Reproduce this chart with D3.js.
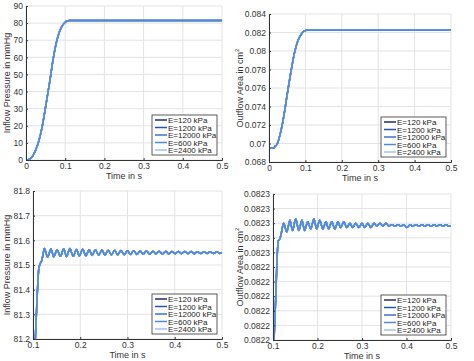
<!DOCTYPE html>
<html>
<head>
<meta charset="utf-8">
<script src="https://cdn.jsdelivr.net/npm/d3@7"></script>
<style>
  body { margin: 0; background: #fff; }
  svg { display: block; }
  text { font-family: "Liberation Sans", Arial, sans-serif; }
</style>
</head>
<body>
<div id="chart"></div>
<script>
// Series names and colours (legend order)
const seriesNames = ["E=120 kPa", "E=1200 kPa", "E=12000 kPa", "E=600 kPa", "E=2400 kPa"];
const seriesColors = ["#1b2c70", "#2552b8", "#3a6fd6", "#4a8ae6", "#9cc4f2"];

// Top-left: inflow pressure, full run
const fullTimeP = [0, 0.005, 0.01, 0.015, 0.02, 0.03, 0.04, 0.05, 0.06, 0.07, 0.08, 0.09, 0.1, 0.105, 0.11, 0.12, 0.2, 0.3, 0.4, 0.5];
const pressureFull = [0, 0.1, 0.6, 1.8, 3.5, 9, 18, 31, 45, 60, 71, 77.5, 80.5, 81.2, 81.5, 81.55, 81.55, 81.55, 81.55, 81.55];

// Top-right: outflow area, full run
const fullTimeA = [0, 0.005, 0.01, 0.014, 0.016, 0.02, 0.025, 0.03, 0.04, 0.05, 0.06, 0.07, 0.08, 0.09, 0.1, 0.105, 0.11, 0.12, 0.2, 0.3, 0.4, 0.5];
const areaFull = [0.0695, 0.0695, 0.0695, 0.0695, 0.0697, 0.0698, 0.0702, 0.0709, 0.0728, 0.0753, 0.0777, 0.0798, 0.0812, 0.0819, 0.08222, 0.08224, 0.08225, 0.08225, 0.08225, 0.08225, 0.08225, 0.08225];

// Bottom row: zoom on 0.1 .. 0.5 s
const zoomTime = [0.1, 0.103, 0.106, 0.109, 0.112, 0.115, 0.118, 0.121,
  0.124, 0.131, 0.138, 0.144, 0.151, 0.158, 0.165, 0.171, 0.178, 0.185,
  0.192, 0.198, 0.205, 0.212, 0.219, 0.225, 0.232, 0.239, 0.246, 0.252,
  0.259, 0.266, 0.273, 0.279, 0.286, 0.293, 0.300, 0.306, 0.313, 0.320,
  0.327, 0.333, 0.340, 0.347, 0.354, 0.360, 0.367, 0.374, 0.381, 0.387,
  0.394, 0.401, 0.408, 0.414, 0.421, 0.428, 0.435, 0.441, 0.448, 0.455,
  0.462, 0.468, 0.475, 0.482, 0.489, 0.495, 0.5];

const pressureZoom = [80.9, 81.1, 81.25, 81.38, 81.48, 81.505, 81.515, 81.54,
  81.567, 81.532, 81.565, 81.533, 81.562, 81.535, 81.566, 81.534, 81.567, 81.535,
  81.563, 81.537, 81.564, 81.538, 81.562, 81.539, 81.562, 81.540, 81.561, 81.540,
  81.560, 81.541, 81.560, 81.541, 81.559, 81.542, 81.558, 81.543, 81.558, 81.543,
  81.557, 81.544, 81.557, 81.544, 81.556, 81.545, 81.556, 81.545, 81.556, 81.545,
  81.555, 81.546, 81.555, 81.546, 81.555, 81.546, 81.555, 81.546, 81.554, 81.547,
  81.554, 81.547, 81.554, 81.547, 81.554, 81.547, 81.551];

const areaZoom = [0.082243, 0.0822455, 0.0822478, 0.0822505, 0.0822518, 0.0822519, 0.0822522, 0.0822527,
  0.0822530, 0.0822524, 0.0822532, 0.0822525, 0.0822533, 0.0822525, 0.0822532, 0.0822525, 0.0822531, 0.0822526,
  0.0822533, 0.0822526, 0.0822532, 0.0822526, 0.0822531, 0.0822526, 0.0822531, 0.0822526, 0.0822531, 0.0822527,
  0.0822531, 0.0822527, 0.0822530, 0.0822527, 0.0822530, 0.0822527, 0.0822530, 0.0822527, 0.0822530, 0.0822527,
  0.0822530, 0.0822528, 0.0822530, 0.0822528, 0.0822530, 0.0822528, 0.0822529, 0.0822528, 0.0822529, 0.0822528,
  0.0822529, 0.0822527, 0.0822529, 0.0822528, 0.0822529, 0.0822528, 0.0822529, 0.0822528, 0.0822529, 0.0822528,
  0.0822529, 0.0822528, 0.0822529, 0.0822528, 0.0822529, 0.0822528, 0.0822528];

// Tick values and labels
const xTicksFull = [0, 0.1, 0.2, 0.3, 0.4, 0.5];
const xTickLabelsFull = ["0", "0.1", "0.2", "0.3", "0.4", "0.5"];
const xTicksZoom = [0.1, 0.2, 0.3, 0.4, 0.5];
const xTickLabelsZoom = ["0.1", "0.2", "0.3", "0.4", "0.5"];
const yTicksP1 = [0, 10, 20, 30, 40, 50, 60, 70, 80, 90];
const yTickLabelsP1 = ["0", "10", "20", "30", "40", "50", "60", "70", "80", "90"];
const yTicksP2 = [0.068, 0.07, 0.072, 0.074, 0.076, 0.078, 0.08, 0.082, 0.084];
const yTickLabelsP2 = ["0.068", "0.07", "0.072", "0.074", "0.076", "0.078", "0.08", "0.082", "0.084"];
const yTicksP3 = [81.2, 81.3, 81.4, 81.5, 81.6, 81.7, 81.8];
const yTickLabelsP3 = ["81.2", "81.3", "81.4", "81.5", "81.6", "81.7", "81.8"];
const yTicksP4 = [0.082245, 0.082246, 0.082247, 0.082248, 0.082249, 0.08225, 0.082251, 0.082252, 0.082253, 0.082254, 0.082255];
const yTickLabelsP4 = ["0.0822", "0.0822", "0.0822", "0.0822", "0.0822", "0.0822", "0.0823", "0.0823", "0.0823", "0.0823", "0.0823"];

const WIDTH = 474;
const HEIGHT = 361;
const TICK_FONT = "8.5px";
const TITLE_FONT = "9px";

const svg = d3.select("#chart").append("svg")
  .attr("width", WIDTH)
  .attr("height", HEIGHT);

drawPanel({
  id: "p1", box: { left: 26, right: 222, top: 6, bottom: 160 },
  time: fullTimeP, values: pressureFull,
  xDomain: [0, 0.5], xTicks: xTicksFull, xLabels: xTickLabelsFull,
  yDomain: [0, 90], yTicks: yTicksP1, yLabels: yTickLabelsP1,
  yTitle: "Inflow Pressure in mmHg", yTitleX: 10, sup: false
});
drawPanel({
  id: "p2", box: { left: 269, right: 451, top: 14, bottom: 162 },
  time: fullTimeA, values: areaFull,
  xDomain: [0, 0.5], xTicks: xTicksFull, xLabels: xTickLabelsFull,
  yDomain: [0.068, 0.084], yTicks: yTicksP2, yLabels: yTickLabelsP2,
  yTitle: "Outflow Area in cm", yTitleX: 243, sup: true
});
drawPanel({
  id: "p3", box: { left: 33, right: 222, top: 191, bottom: 339 },
  time: zoomTime, values: pressureZoom,
  xDomain: [0.1, 0.5], xTicks: xTicksZoom, xLabels: xTickLabelsZoom,
  yDomain: [81.2, 81.8], yTicks: yTicksP3, yLabels: yTickLabelsP3,
  yTitle: "Inflow Pressure in mmHg", yTitleX: 10, sup: false
});
drawPanel({
  id: "p4", box: { left: 273, right: 451, top: 194, bottom: 340 },
  time: zoomTime, values: areaZoom,
  xDomain: [0.1, 0.5], xTicks: xTicksZoom, xLabels: xTickLabelsZoom,
  yDomain: [0.082245, 0.082255], yTicks: yTicksP4, yLabels: yTickLabelsP4,
  yTitle: "Outflow Area in cm", yTitleX: 243, sup: true
});

function drawPanel(p) {
  const b = p.box;
  const w = b.right - b.left;
  const h = b.bottom - b.top;

  const x = d3.scaleLinear().domain(p.xDomain).range([0, w]);
  const y = d3.scaleLinear().domain(p.yDomain).range([h, 0]);

  const g = svg.append("g").attr("transform", `translate(${b.left}, ${b.top})`);

  // grid
  g.append("g").selectAll("line").data(p.xTicks).enter().append("line")
    .attr("x1", (d) => x(d)).attr("x2", (d) => x(d))
    .attr("y1", 0).attr("y2", h)
    .attr("stroke", "#e3e3e3").attr("stroke-width", 1);
  g.append("g").selectAll("line").data(p.yTicks).enter().append("line")
    .attr("x1", 0).attr("x2", w)
    .attr("y1", (d) => y(d)).attr("y2", (d) => y(d))
    .attr("stroke", "#e3e3e3").attr("stroke-width", 1);

  // lines, all five runs lie on top of each other
  g.append("clipPath").attr("id", "clip-" + p.id)
    .append("rect").attr("width", w).attr("height", h);

  const line = d3.line()
    .x((d, i) => x(p.time[i]))
    .y((d) => y(d))
    .curve(d3.curveMonotoneX);

  const drawOrder = [0, 1, 2, 4, 3];
  g.append("g").attr("clip-path", `url(#clip-${p.id})`)
    .selectAll("path").data(drawOrder).enter().append("path")
    .datum(p.values)
    .attr("d", line)
    .attr("fill", "none")
    .attr("stroke", (d, i) => seriesColors[drawOrder[i]])
    .attr("stroke-width", 1.5);

  // axes
  const xAxis = d3.axisBottom(x).tickValues(p.xTicks)
    .tickFormat((d, i) => p.xLabels[i]).tickSize(-2).tickPadding(3);
  const yAxis = d3.axisLeft(y).tickValues(p.yTicks)
    .tickFormat((d, i) => p.yLabels[i]).tickSize(-2).tickPadding(3);

  const gx = g.append("g").attr("transform", `translate(0, ${h})`).call(xAxis);
  const gy = g.append("g").call(yAxis);
  [gx, gy].forEach((a) => {
    a.select(".domain").attr("stroke", "#333");
    a.selectAll(".tick line").attr("stroke", "#333");
    a.selectAll(".tick text").attr("fill", "#333").style("font-size", TICK_FONT)
      .style("font-family", "'Liberation Sans', Arial, sans-serif");
  });

  // axis titles
  svg.append("text")
    .attr("x", b.left + w / 2)
    .attr("y", b.bottom + 19)
    .attr("text-anchor", "middle")
    .attr("fill", "#333")
    .style("font-size", TITLE_FONT)
    .text("Time in s");

  const yt = svg.append("text")
    .attr("transform", `translate(${p.yTitleX}, ${b.top + h / 2}) rotate(-90)`)
    .attr("text-anchor", "middle")
    .attr("fill", "#333")
    .style("font-size", TITLE_FONT)
    .text(p.yTitle);
  if (p.sup) {
    yt.append("tspan").attr("dy", -4).style("font-size", "6px").text("2");
  }

  // legend
  const lw = 65;
  const lh = 40;
  const lx = w - 5 - lw;
  const ly = h - 5 - lh;
  const leg = g.append("g").attr("transform", `translate(${lx}, ${ly})`);
  leg.append("rect")
    .attr("width", lw).attr("height", lh)
    .attr("fill", "#fff").attr("stroke", "#333").attr("stroke-width", 0.8);
  seriesNames.forEach((name, i) => {
    const cy = 5 + i * 7.5;
    leg.append("line")
      .attr("x1", 3).attr("x2", 15)
      .attr("y1", cy).attr("y2", cy)
      .attr("stroke", seriesColors[i]).attr("stroke-width", 1.5);
    leg.append("text")
      .attr("x", 16).attr("y", cy + 3)
      .attr("fill", "#222")
      .style("font-size", "8px")
      .text(name);
  });
}
</script>
</body>
</html>
